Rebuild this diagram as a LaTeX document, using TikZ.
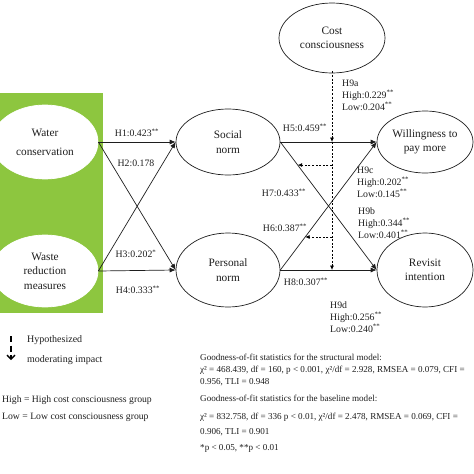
\documentclass[tikz,border=0pt]{standalone}
\usepackage{fontspec}
\setmainfont{Liberation Serif}
\usetikzlibrary{shapes.geometric,arrows.meta,calc}
\definecolor{panelgreen}{RGB}{141,198,63}
\definecolor{ink}{RGB}{30,30,30}
\newcommand\twostar{\textsuperscript{**}}
\newcommand\onestar{\textsuperscript{*}}
\begin{document}
\begin{tikzpicture}[x=1pt,y=-1pt,
  latent/.style={ellipse,draw=ink,line width=0.7pt,fill=white,inner sep=0pt,align=center,text=ink,font=\fontsize{11.3}{14.5}\selectfont},
  hpath/.style={draw=ink,line width=0.7pt,-{Latex[length=6pt,width=5pt]}},
  modline/.style={draw=black,line width=0.7pt,dash pattern=on 2pt off 1.6pt},
  modarrow/.style={modline,-{Latex[length=4.5pt,width=4pt]}},
  est/.style={font=\fontsize{9.8}{12}\selectfont,inner sep=0pt,text=ink},
  estblock/.style={est,align=left,anchor=north west},
  gofline/.style={font=\fontsize{9.1}{11}\selectfont,anchor=west,inner sep=0pt,text=ink},
  legline/.style={font=\fontsize{9.7}{11}\selectfont,anchor=west,inner sep=0pt,text=ink}
]
\useasboundingbox (0,0) rectangle (474,474);
\fill[panelgreen] (0,93) rectangle (103,313);

% latent variables
\node[latent,draw=white,minimum width=106pt,minimum height=74pt] (wc) at (45,142) {Water\\[4.5pt]conservation};
\node[latent,draw=white,minimum width=106pt,minimum height=72pt] (wr) at (45,271) {Waste\\reduction\\measures};
\node[latent,minimum width=104pt,minimum height=66pt] (sn) at (228,142) {Social\\norm};
\node[latent,minimum width=104pt,minimum height=74pt] (pn) at (228,270) {Personal\\norm};
\node[latent,minimum width=106pt,minimum height=70pt] (cc) at (332,38) {Cost\\consciousness};
\node[latent,minimum width=96pt,minimum height=62pt] (wp) at (425,142) {Willingness to\\pay more};
\node[latent,minimum width=96pt,minimum height=74pt] (ri) at (425,270) {Revisit\\intention};

% structural paths
\draw[hpath] (wc.east) -- (sn.west);
\draw[hpath] (wc.east) -- (pn.west);
\draw[hpath] (wr.east) -- (sn.west);
\draw[hpath] (wr.east) -- (pn.west);
\draw[hpath] (sn.east) -- (wp.west);
\draw[hpath] (sn.east) -- (ri.west);
\draw[hpath] (pn.east) -- (wp.west);
\draw[hpath] (pn.east) -- (ri.west);

% moderation
\coordinate (m5) at (cc.south |- sn.east);
\coordinate (m8) at (cc.south |- pn.east);
\coordinate (t7) at ($(sn.east)!0.18!(ri.west)$);
\coordinate (t6) at ($(pn.east)!0.258!(wp.west)$);
\coordinate (s7) at (cc.south |- t7);
\coordinate (s6) at (cc.south |- t6);
\draw[modarrow] ([yshift=2pt]cc.south) -- (m5);
\draw[modarrow] (m5) -- (m8);
\draw[modarrow] (s7) -- (t7);
\draw[modarrow] (s6) -- (t6);

% estimates
\node[est] (h1) at (137,133) {H1:0.423\twostar};
\node[est] (h2) at (136,163) {H2:0.178};
\node[est] (h3) at (136,254) {H3:0.202\onestar};
\node[est] (h4) at (138,290) {H4:0.333\twostar};
\node[est] (h5) at (305,128) {H5:0.459\twostar};
\node[est] (h7) at (284,193) {H7:0.433\twostar};
\node[est] (h6) at (285,228) {H6:0.387\twostar};
\node[est] (h8) at (306,282) {H8:0.307\twostar};
\node[estblock] (h9a) at (342,79.5) {H9a\\High:0.229\twostar\\Low:0.204\twostar};
\node[estblock] (h9c) at (357,166.5) {H9c\\High:0.202\twostar\\Low:0.145\twostar};
\node[estblock] (h9b) at (358,207.5) {H9b\\High:0.344\twostar\\Low:0.401\twostar};
\node[estblock] (h9d) at (330,301.5) {H9d\\High:0.256\twostar\\Low:0.240\twostar};

% legend
\coordinate (lg1) at (11,336);
\coordinate (lg2) at (11,360);
\draw[line width=1.4pt,dash pattern=on 6pt off 3.5pt,-{Straight Barb[length=4pt,width=8pt,line width=1.4pt]}] (lg1) -- (lg2);
\node[legline,font=\fontsize{10}{11}\selectfont] (lgt1) at (27,340) {Hypothesized};
\node[legline,font=\fontsize{10}{11}\selectfont] (lgt2) at (27,360) {moderating impact};
\node[legline] (hi) at (2,400) {High = High cost consciousness group};
\node[legline] (lo) at (2,417) {Low = Low cost consciousness group};

% fit statistics
\node[gofline] (g1) at (200,357) {Goodness-of-fit statistics for the structural model:};
\node[gofline] (g2) at (200,370) {χ² = 468.439, df = 160, p < 0.001, χ²/df = 2.928, RMSEA = 0.079, CFI =};
\node[gofline] (g3) at (200,382) {0.956, TLI = 0.948};
\node[gofline] (g4) at (200,398) {Goodness-of-fit statistics for the baseline model:};
\node[gofline] (g5) at (200,417) {χ² = 832.758, df = 336 p < 0.01, χ²/df = 2.478, RMSEA = 0.069, CFI =};
\node[gofline] (g6) at (200,432) {0.906, TLI = 0.901};
\node[gofline] (g7) at (200,448) {*p < 0.05, **p < 0.01};
\end{tikzpicture}
\end{document}
